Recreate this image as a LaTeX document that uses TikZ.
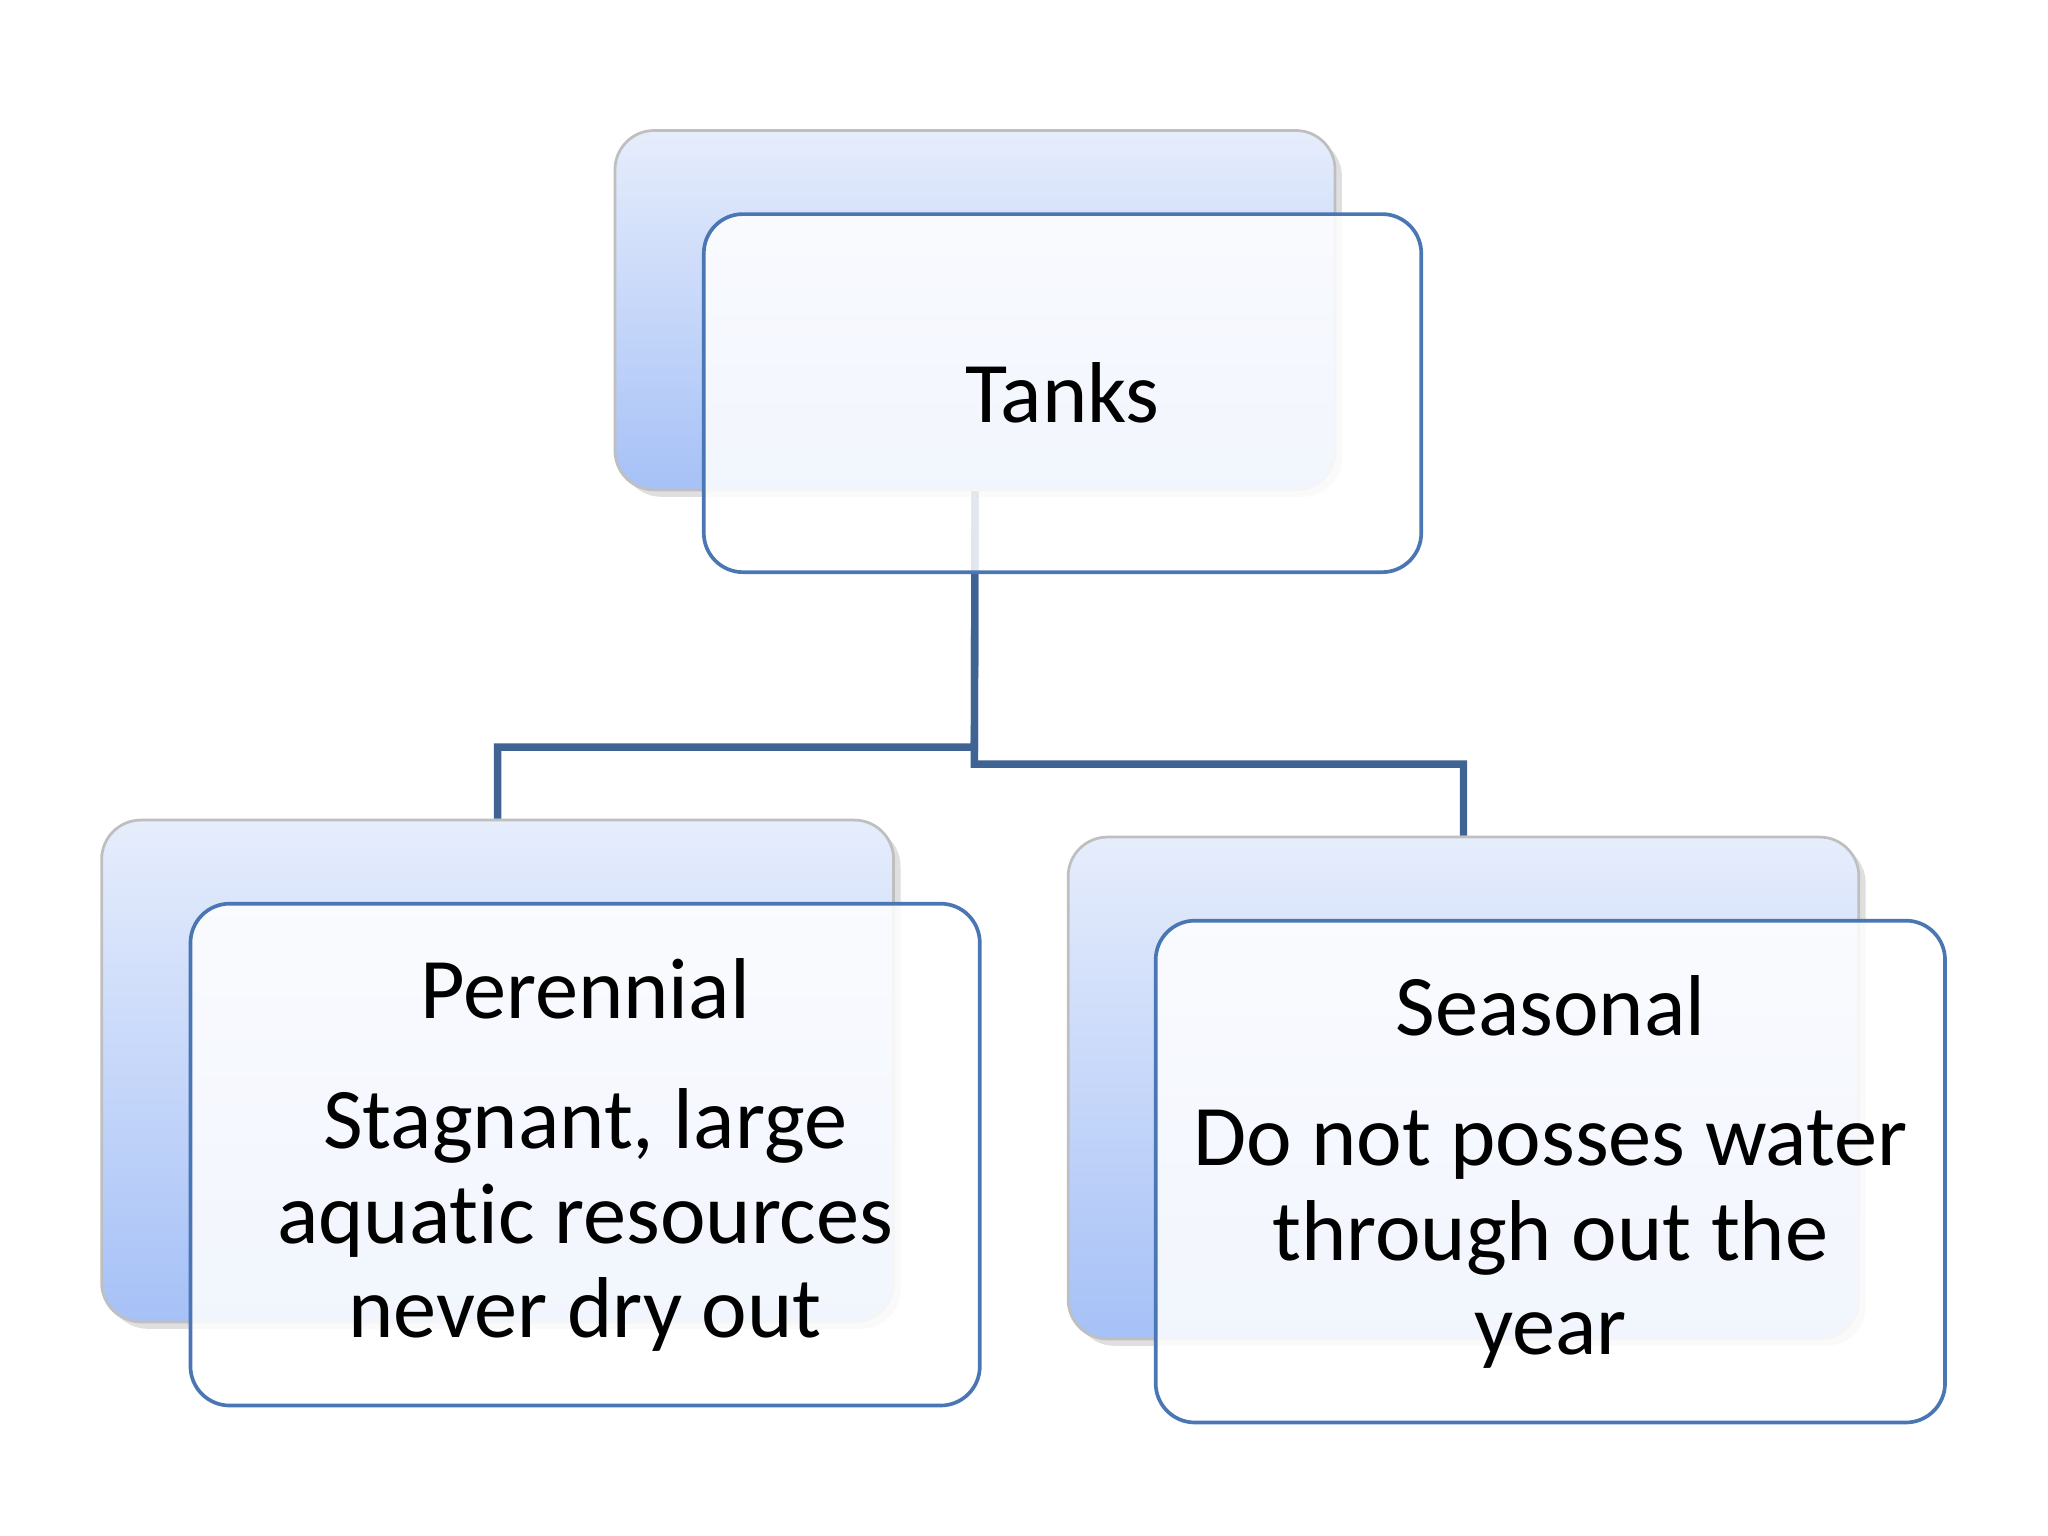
\documentclass[tikz,border=0pt]{standalone}
\usepackage{fontspec}
\setmainfont{Carlito}[Ligatures={NoCommon}]
\usetikzlibrary{shadows}
\definecolor{bordc}{HTML}{4A76B4}
\definecolor{linec}{HTML}{3F6493}
\definecolor{topc}{HTML}{E6EDFC}
\definecolor{botc}{HTML}{A6C1F7}
\begin{document}
\begin{tikzpicture}[x=0.01cm,y=-0.01cm,
  back/.style={draw=black!25,line width=0.6pt,rounded corners=0.3cm,top color=topc,bottom color=botc,shading angle=0,
    drop shadow={shadow xshift=1.5pt,shadow yshift=-1.5pt,opacity=0.25},inner sep=0pt},
  front/.style={draw=bordc,line width=0.8pt,rounded corners=0.3cm,fill=white,fill opacity=0.85,text opacity=1,
    align=center,inner sep=0pt,font=\fontsize{18.8}{20.5}\selectfont},
  conn/.style={draw=linec,line width=1.6pt}]
\useasboundingbox (0,0) rectangle (1568,1176);
\node[back,minimum width=5.51cm,minimum height=2.75cm] (tb) at (746.5,237.5) {};
\node[back,minimum width=6.06cm,minimum height=3.84cm] (pb) at (381,820) {};
\node[back,minimum width=6.05cm,minimum height=3.84cm] (sb) at (1120.5,833) {};
\draw[conn] (tb.south) -- (746,572) -| (pb.north);
\draw[conn] (tb.south) -- (746,585) -| (sb.north);
\node[front,minimum width=5.49cm,minimum height=2.74cm] (tf) at (813.5,301) {Tanks};
\node[front,minimum width=6.04cm,minimum height=3.84cm] (pf) at (448,884) {Perennial\\[8pt]Stagnant, large\\aquatic resources\\never dry out};
\node[front,minimum width=6.04cm,minimum height=3.84cm] (sf) at (1187,897) {Seasonal\\[8pt]Do not posses water\\through out the\\year};
\end{tikzpicture}
\end{document}
